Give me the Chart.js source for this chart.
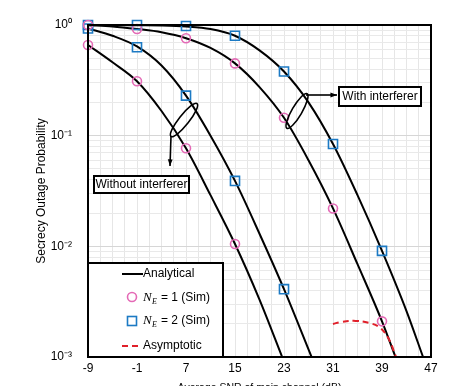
<!DOCTYPE html>
<html>
<head>
<meta charset="utf-8">
<script src="https://cdn.jsdelivr.net/npm/chart.js@4"></script>
<style>
  html, body { margin: 0; padding: 0; background: #fff; overflow: hidden; }
</style>
</head>
<body>
<canvas id="myChart" width="474" height="400"></canvas>
<script>
// analytical curves
const xA = [-9, -5, -1, 3, 7, 11, 15, 19, 22.7];          // N_E = 1, without interferer
const pA = [0.66, 0.46, 0.31, 0.167, 0.077, 0.029, 0.0105, 0.0033, 0.001];
const xB = [-9, -5, -1, 3, 7, 11, 15, 19, 23, 27.5];      // N_E = 2, without interferer
const pB = [0.93, 0.8, 0.64, 0.43, 0.23, 0.1, 0.039, 0.013, 0.0041, 0.001];
const xC = [-9, -5, -1, 3, 7, 11, 15, 19, 23, 27, 31, 35, 39, 41.2]; // N_E = 1, with interferer
const pC = [0.995, 0.97, 0.92, 0.86, 0.76, 0.62, 0.45, 0.275, 0.145, 0.06, 0.022, 0.0069, 0.0021, 0.001];
const xD = [-9, -5, -1, 3, 7, 11, 15, 19, 23, 27, 31, 35, 39, 43, 45.7]; // N_E = 2, with interferer
const pD = [1, 1, 0.995, 0.99, 0.97, 0.92, 0.8, 0.59, 0.38, 0.2, 0.084, 0.029, 0.0091, 0.0026, 0.001];

// simulation points
const simX = [-9, -1, 7, 15, 23, 31, 39];
const simA = [0.66, 0.31, 0.077, 0.0105];
const simB = [0.93, 0.63, 0.23, 0.039, 0.0041];
const simC = [1, 0.92, 0.76, 0.45, 0.145, 0.022, 0.0021];
const simD = [1, 1, 0.98, 0.8, 0.38, 0.084, 0.0091];

// asymptotic curve
const asymX = [31, 32.3, 34.7, 36.9, 38.5, 40, 41.3];
const asymP = [0.00199, 0.00207, 0.00212, 0.00203, 0.00187, 0.00149, 0.001];

// ticks
const xLabels = [-9, -1, 7, 15, 23, 31, 39, 47];
const xGrid = [];
for (let v = -9; v <= 47; v += 2) xGrid.push(v);
const yGrid = [];
for (let e = -3; e < 0; e++) for (let m = 1; m < 10; m++) yGrid.push(m * Math.pow(10, e));
yGrid.push(1);
const sup = {"0": "⁰", "1": "¹", "2": "²", "3": "³", "-": "⁻"};

const pts = (xs, ys) => ys.map((y, i) => ({x: xs[i], y: y}));
const FONT = "'Liberation Sans', Arial, sans-serif";

const black = (xs, ys) => ({
  type: "line", data: pts(xs, ys), borderColor: "#000", borderWidth: 2,
  pointRadius: 0, cubicInterpolationMode: "monotone", clip: false, order: 2,
});
const circles = (ys) => ({
  type: "scatter", data: pts(simX, ys), pointStyle: "circle", pointRadius: 4.5,
  borderColor: "#e46ab6", backgroundColor: "rgba(0,0,0,0)", pointBorderWidth: 1.6, clip: false, order: 1,
});
const squares = (ys) => ({
  type: "scatter", data: pts(simX, ys), pointStyle: "rect", pointRadius: 6.4,
  borderColor: "#1c7ac4", backgroundColor: "rgba(0,0,0,0)", pointBorderWidth: 1.6, clip: false, order: 1,
});

const arrow = (ctx, x1, y1, x2, y2) => {
  ctx.beginPath(); ctx.moveTo(x1, y1); ctx.lineTo(x2, y2); ctx.stroke();
  const a = Math.atan2(y2 - y1, x2 - x1);
  ctx.beginPath();
  ctx.moveTo(x2, y2);
  ctx.lineTo(x2 - 7 * Math.cos(a - 0.35), y2 - 7 * Math.sin(a - 0.35));
  ctx.lineTo(x2 - 7 * Math.cos(a + 0.35), y2 - 7 * Math.sin(a + 0.35));
  ctx.closePath(); ctx.fill();
};

const extras = {
  id: "extras",
  afterDraw(chart) {
    const {ctx, chartArea: ca} = chart;
    ctx.save();
    // frame
    ctx.strokeStyle = "#000"; ctx.lineWidth = 2;
    ctx.strokeRect(ca.left, ca.top, ca.right - ca.left, ca.bottom - ca.top);

    // ellipses + arrows
    ctx.lineWidth = 1.6; ctx.fillStyle = "#000";
    ctx.beginPath(); ctx.ellipse(184, 120, 21, 5, -0.9, 0, Math.PI * 2); ctx.stroke();
    arrow(ctx, 171, 136, 170, 166);
    ctx.beginPath(); ctx.ellipse(297, 111, 20, 5, -1.04, 0, Math.PI * 2); ctx.stroke();
    arrow(ctx, 306, 95, 337, 95);

    // annotation boxes
    ctx.font = "12px " + FONT; ctx.textAlign = "center"; ctx.textBaseline = "middle";
    ctx.lineWidth = 2;
    ctx.fillStyle = "#fff"; ctx.fillRect(94, 176, 95, 17); ctx.strokeRect(94, 176, 95, 17);
    ctx.fillRect(339, 87, 82, 19); ctx.strokeRect(339, 87, 82, 19);
    ctx.fillStyle = "#000";
    ctx.fillText("Without interferer", 141.5, 185);
    ctx.fillText("With interferer", 380, 97);

    // legend
    const lx = ca.left, ly = 263;
    ctx.fillStyle = "#fff"; ctx.fillRect(lx, ly, 135, ca.bottom - ly);
    ctx.strokeRect(lx, ly, 135, ca.bottom - ly);
    ctx.textAlign = "left"; ctx.fillStyle = "#000";
    ctx.beginPath(); ctx.moveTo(122, 274); ctx.lineTo(143, 274); ctx.stroke();
    ctx.fillText("Analytical", 143, 274);

    ctx.lineWidth = 1.6;
    ctx.strokeStyle = "#e46ab6";
    ctx.beginPath(); ctx.arc(132, 297, 4.5, 0, Math.PI * 2); ctx.stroke();
    ctx.strokeStyle = "#1c7ac4";
    ctx.strokeRect(127.5, 316.5, 9, 9);

    [["1", 298], ["2", 321]].forEach(([n, y]) => {
      ctx.fillStyle = "#000";
      ctx.font = "italic 13px 'Liberation Serif', serif"; ctx.fillText("N", 143, y);
      ctx.font = "italic 8px 'Liberation Serif', serif"; ctx.fillText("E", 152, y + 4);
      ctx.font = "12px " + FONT; ctx.fillText("= " + n + " (Sim)", 161, y);
    });

    ctx.strokeStyle = "#e0202a"; ctx.lineWidth = 2; ctx.setLineDash([6, 4]);
    ctx.beginPath(); ctx.moveTo(122, 346); ctx.lineTo(140, 346); ctx.stroke();
    ctx.setLineDash([]);
    ctx.fillText("Asymptotic", 143, 346);
    ctx.restore();
  },
};

new Chart(document.getElementById("myChart"), {
  data: {
    datasets: [
      black(xA, pA), black(xB, pB), black(xC, pC), black(xD, pD),
      circles(simA), circles(simC), squares(simB), squares(simD),
      {
        type: "line", data: pts(asymX, asymP), borderColor: "#e0202a", borderWidth: 2,
        borderDash: [6, 4], pointRadius: 0, tension: 0.4, clip: false, order: 0,
      },
    ],
  },
  options: {
    responsive: false,
    animation: false,
    layout: {padding: {left: 30, top: 25, right: 43, bottom: 0}},
    plugins: {legend: {display: false}, tooltip: {enabled: false}},
    scales: {
      x: {
        type: "linear", min: -9, max: 47,
        afterBuildTicks: (s) => { s.ticks = xGrid.map((v) => ({value: v})); },
        afterFit: (s) => { s.height = 43; },
        ticks: {
          autoSkip: false, maxRotation: 0, padding: 4, color: "#000",
          font: {family: FONT, size: 12},
          callback: (v) => (xLabels.includes(v) ? String(v) : ""),
        },
        grid: {drawTicks: false, color: "#e6e6e6", lineWidth: 1},
        border: {color: "#000", width: 2},
        title: {
          display: true, text: "Average SNR of main channel (dB)", color: "#000",
          font: {family: FONT, size: 10.5}, padding: {top: 0, bottom: 6},
        },
      },
      y: {
        type: "logarithmic", min: 1e-3, max: 1,
        afterBuildTicks: (s) => { s.ticks = yGrid.map((v) => ({value: v})); },
        afterFit: (s) => { s.width = 58; },
        ticks: {
          autoSkip: false, padding: 16, color: "#000",
          font: {family: FONT, size: 12},
          callback: (v) => {
            const e = Math.log10(v);
            if (Math.abs(e - Math.round(e)) > 1e-9) return "";
            return "10" + String(Math.round(e)).split("").map((c) => sup[c]).join("");
          },
        },
        grid: {
          drawTicks: false, lineWidth: 1,
          color: (c) => {
            const e = Math.log10(c.tick.value);
            return Math.abs(e - Math.round(e)) < 1e-9 ? "#d6d6d6" : "#e9e9e9";
          },
        },
        border: {color: "#000", width: 2},
        title: {
          display: true, text: "Secrecy Outage Probability", color: "#000",
          font: {family: FONT, size: 12}, padding: {top: 4, bottom: 0},
        },
      },
    },
  },
  plugins: [extras],
});
</script>
</body>
</html>
